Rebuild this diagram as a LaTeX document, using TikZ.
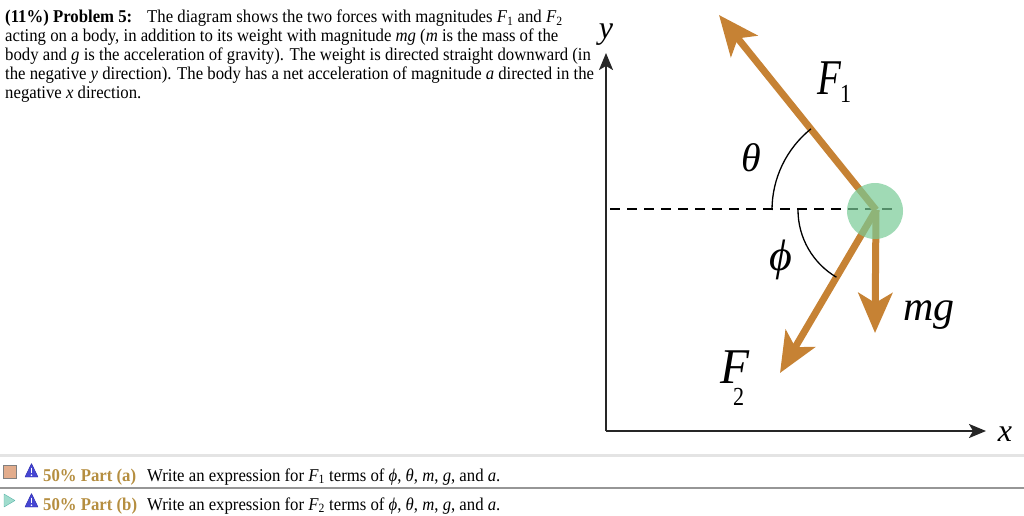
\documentclass[tikz,border=0pt]{standalone}
\usepackage{graphicx}
\usepackage{fontspec}
\setmainfont{Liberation Serif}
\usetikzlibrary{arrows.meta}
\definecolor{force}{RGB}{198,130,52}
\definecolor{bodygreen}{RGB}{120,202,150}
\definecolor{partgold}{RGB}{181,142,64}
\definecolor{sepgray}{RGB}{228,228,228}
\definecolor{sepdark}{RGB}{150,150,150}
\definecolor{warnedge}{RGB}{40,40,170}
\definecolor{warnfill}{RGB}{70,70,210}
\definecolor{sqfill}{RGB}{226,172,140}
\definecolor{playedge}{RGB}{90,180,170}
\definecolor{playfill}{RGB}{160,220,205}
\newcommand{\mytxt}{\fontsize{18}{19}\selectfont}
\newcommand{\sq}[1]{\scalebox{0.93}[1]{#1}}
\newcommand{\mysub}[1]{\textsubscript{\upshape #1}}
\newcommand{\bigF}[1]{{\fontsize{50}{50}\selectfont\itshape\scalebox{#1}[1]{F}}}
\newcommand{\bigdigit}[1]{{\fontsize{26}{26}\selectfont\upshape\scalebox{0.85}[1]{#1}}}
\tikzset{
  line/.style={inner sep=0pt, anchor=base west, font=\mytxt},
  forcearrow/.style={draw=force, line width=7pt, -{Stealth[length=40pt, width=34pt, inset=10pt]}},
  axis/.style={draw=black!85, line width=2pt, -{Stealth[length=17pt, width=14pt, inset=4pt]}},
  biglabel/.style={inner sep=0pt, anchor=base west},
  part/.style={inner sep=0pt, anchor=base west, font=\mytxt\bfseries, text=partgold},
  warn/.style={draw=warnedge, fill=warnfill, line join=round},
  anglearc/.style={black, line width=1.3pt}
}
\begin{document}
\begin{tikzpicture}[x=1pt, y=-1pt]
\useasboundingbox (0,0) rectangle (1024,516);
% problem text
\node[line] (l1a) at (5,23) {\sq{\textbf{(11\%) Problem 5:}}};
\node[line] (l1b) at (147,23) {\sq{The diagram shows the two forces with magnitudes \textit{F}\mysub{1} and \textit{F}\mysub{2}}};
\node[line] (l2) at (5,42) {\sq{acting on a body, in addition to its weight with magnitude \textit{mg} (\textit{m} is the mass of the}};
\node[line] (l3) at (5,61) {\sq{body and \textit{g} is the acceleration of gravity). The weight is directed straight downward (in}};
\node[line] (l4) at (5,80) {\sq{the negative \textit{y} direction). The body has a net acceleration of magnitude \textit{a} directed in the}};
\node[line] (l5) at (5,99) {\sq{negative \textit{x} direction.}};
% axes
\coordinate (origin) at (606,431);
\coordinate (ytip) at (606,53);
\coordinate (xtip) at (986,431);
\draw[axis] (origin) -- (ytip);
\draw[axis] (origin) -- (xtip);
\node[inner sep=0pt, font=\fontsize{32}{32}\selectfont\itshape] (ylab) at (606,35) {y};
\node[inner sep=0pt, font=\fontsize{32}{32}\selectfont\itshape] (xlab) at (1005,434) {x};
% body
\coordinate (c) at (876,210);
\draw[black, line width=2pt, dash pattern=on 10pt off 7pt] (610,209) -- (892,209);
\coordinate (F1tip) at (719,15);
\coordinate (F2tip) at (780,373);
\coordinate (mgtip) at (875,333);
\draw[forcearrow] (c) -- (F1tip);
\draw[forcearrow] (c) -- (F2tip);
\draw[forcearrow] (c) -- (mgtip);
\node[circle, fill=bodygreen, fill opacity=0.7, minimum size=56pt, inner sep=0pt] (body) at (875,211) {};
% angle arcs (y axis points down, so angles are mirrored)
\draw[anglearc] (c) ++(180:104) arc[start angle=180, end angle=231.3, radius=104];
\draw[anglearc] (c) ++(180:78) arc[start angle=180, end angle=120.5, radius=78];
\node[inner sep=0pt, font=\fontsize{40}{40}\selectfont\itshape] (theta) at (751,158) {θ};
\node[inner sep=0pt, font=\fontsize{44}{44}\selectfont\itshape] (phi) at (781,260) {ϕ};
\node[biglabel] (F1lab) at (817,95) {\bigF{0.78}\kern-1pt\raisebox{-8pt}{\bigdigit{1}}};
\node[biglabel] (F2lab) at (720,383) {\bigF{0.95}\kern-16pt\raisebox{-22pt}{\bigdigit{2}}};
\node[biglabel, font=\fontsize{42}{42}\selectfont\itshape] (mglab) at (903,320) {mg};
% separators
\draw[sepgray, line width=3pt] (0,455) -- (1024,455);
\draw[sepdark, line width=1.5pt] (0,488) -- (1024,488);
% icons
\draw[gray, fill=sqfill] (3,465) rectangle (16,478);
\draw[warn] (31.5,463.5) -- (38,477) -- (25,477) -- cycle;
\draw[white, line width=1.2pt] (31.5,467.5) -- (31.5,473);
\fill[white] (31.5,475.2) circle (0.8);
\draw[draw=playedge, fill=playfill, line join=round] (4,494) -- (15,500.5) -- (4,507) -- cycle;
\draw[warn] (31.5,493.5) -- (38,507) -- (25,507) -- cycle;
\draw[white, line width=1.2pt] (31.5,497.5) -- (31.5,503);
\fill[white] (31.5,505.2) circle (0.8);
% parts
\node[part] (pa) at (43,481) {\sq{50\% Part (a)}};
\node[line] (pat) at (147,481) {\sq{Write an expression for \textit{F}\mysub{1} terms of \textit{ϕ}, \textit{θ}, \textit{m}, \textit{g}, and \textit{a}.}};
\node[part] (pb) at (43,510) {\sq{50\% Part (b)}};
\node[line] (pbt) at (147,510) {\sq{Write an expression for \textit{F}\mysub{2} terms of \textit{ϕ}, \textit{θ}, \textit{m}, \textit{g}, and \textit{a}.}};
\end{tikzpicture}
\end{document}
